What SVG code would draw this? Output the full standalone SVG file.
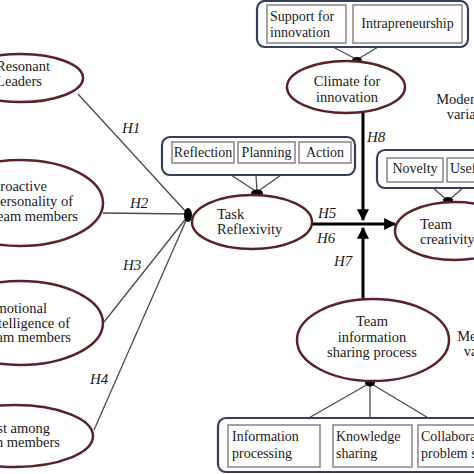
<svg xmlns="http://www.w3.org/2000/svg" width="474" height="474" viewBox="0 0 474 474">
<style>
.ell{fill:#fff;stroke:#5a2127;stroke-width:2.5}
.outer{fill:#fff;stroke:#34405a;stroke-width:2.2}
.inner{fill:#fff;stroke:#8c8c8c;stroke-width:1.6}
.t{font-family:"Liberation Serif","Times New Roman",serif;font-size:14.5px;fill:#1a1a1a}
.b{font-family:"Liberation Serif","Times New Roman",serif;font-size:14px;fill:#1a1a1a}
.h{font-family:"Liberation Serif","Times New Roman",serif;font-size:15px;font-style:italic;fill:#1a1a1a}
.thin{stroke:#4a4a4a;stroke-width:1.3;fill:none}
.thick{stroke:#000;stroke-width:3;fill:none}
.dot{fill:#000}
</style>
<defs>
<marker id="arr" viewBox="0 0 10 10" refX="9" refY="5" markerWidth="4" markerHeight="4" orient="auto" markerUnits="strokeWidth">
<path d="M0,0 L10,5 L0,10 z" fill="#000"/>
</marker>
</defs>
<rect width="474" height="474" fill="#fff"/>

<g id="connectors">
<line class="thin" x1="78" y1="94" x2="188" y2="214"/>
<line class="thin" x1="103" y1="213" x2="188" y2="214"/>
<line class="thin" x1="104" y1="322" x2="188" y2="216"/>
<line class="thin" x1="94" y1="430" x2="188" y2="216"/>
<line class="thin" x1="231" y1="175" x2="257" y2="192"/>
<line class="thin" x1="256" y1="175" x2="257" y2="192"/>
<line class="thin" x1="281" y1="175" x2="257" y2="192"/>
<line class="thin" x1="333" y1="47" x2="356" y2="59"/>
<line class="thin" x1="378" y1="47" x2="358" y2="59"/>
<line class="thin" x1="433" y1="188" x2="447" y2="200"/>
<line class="thin" x1="463" y1="188" x2="449" y2="200"/>
<line class="thin" x1="370" y1="383" x2="307" y2="419"/>
<line class="thin" x1="370" y1="383" x2="370" y2="419"/>
<line class="thin" x1="370" y1="383" x2="430" y2="419"/>
<line class="thick" x1="363" y1="112" x2="363" y2="220" marker-end="url(#arr)"/>
<line class="thick" x1="363" y1="299" x2="363" y2="228" marker-end="url(#arr)"/>
<line class="thick" x1="312" y1="224" x2="395" y2="224" marker-end="url(#arr)"/>
<ellipse class="dot" cx="188" cy="215" rx="4" ry="7"/>
<ellipse class="dot" cx="257" cy="193" rx="6" ry="3.5"/>
<ellipse class="dot" cx="357" cy="60" rx="5" ry="3"/>
<ellipse class="dot" cx="448" cy="200" rx="5" ry="3"/>
<ellipse class="dot" cx="370" cy="383" rx="5" ry="3.5"/>
<text class="h" x="122" y="133">H1</text>
<text class="h" x="130" y="208">H2</text>
<text class="h" x="123" y="270">H3</text>
<text class="h" x="90" y="384">H4</text>
<text class="h" x="318" y="218">H5</text>
<text class="h" x="317" y="243">H6</text>
<text class="h" x="334" y="266">H7</text>
<text class="h" x="367" y="142">H8</text>
</g>

<g id="resonant">
<ellipse class="ell" cx="21" cy="78" rx="62" ry="24"/>
<text class="t" x="50" y="71" text-anchor="end">Resonant</text>
<text class="t" x="42" y="86" text-anchor="end">Leaders</text>
</g>

<g id="proactive">
<ellipse class="ell" cx="20" cy="203" rx="83" ry="43"/>
<text class="t" x="47" y="191" text-anchor="end">Proactive</text>
<text class="t" x="73" y="206" text-anchor="end">personality of</text>
<text class="t" x="78" y="221" text-anchor="end">team members</text>
</g>

<g id="emotional">
<ellipse class="ell" cx="20" cy="323" rx="83" ry="42"/>
<text class="t" x="47" y="313" text-anchor="end">Emotional</text>
<text class="t" x="70" y="328" text-anchor="end">intelligence of</text>
<text class="t" x="71" y="342" text-anchor="end">team members</text>
</g>

<g id="trust">
<ellipse class="ell" cx="15" cy="436" rx="78" ry="31"/>
<text class="t" x="50" y="433" text-anchor="end">Trust among</text>
<text class="t" x="60" y="447" text-anchor="end">team members</text>
</g>

<g id="task-reflexivity">
<ellipse class="ell" cx="252" cy="222" rx="60" ry="27"/>
<text class="t" x="217" y="219">Task</text>
<text class="t" x="217" y="234">Reflexivity</text>
</g>

<g id="reflexivity-dims">
<rect class="outer" x="162" y="137" width="193" height="38" rx="8"/>
<rect class="inner" x="172" y="142" width="62" height="21"/>
<rect class="inner" x="238" y="142" width="57" height="21"/>
<rect class="inner" x="299" y="142" width="52" height="21"/>
<text class="b" x="203" y="157" text-anchor="middle">Reflection</text>
<text class="b" x="266.5" y="157" text-anchor="middle">Planning</text>
<text class="b" x="325" y="157" text-anchor="middle">Action</text>
</g>

<g id="climate-dims">
<rect class="outer" x="257" y="1" width="211" height="46" rx="8"/>
<rect class="inner" x="267" y="5" width="79" height="38"/>
<rect class="inner" x="353" y="5" width="109" height="38"/>
<text class="b" x="270" y="21">Support for</text>
<text class="b" x="270" y="37">innovation</text>
<text class="b" x="407.5" y="28" text-anchor="middle">Intrapreneurship</text>
</g>

<g id="climate">
<ellipse class="ell" cx="346" cy="87" rx="59" ry="26"/>
<text class="t" x="347" y="86" text-anchor="middle">Climate for</text>
<text class="t" x="347" y="102" text-anchor="middle">innovation</text>
</g>

<g id="moderating-label">
<text class="t" x="470" y="104" text-anchor="middle">Moderating</text>
<text class="t" x="470" y="119" text-anchor="middle">variable</text>
</g>

<g id="creativity-dims">
<rect class="outer" x="377" y="150" width="130" height="38" rx="8"/>
<rect class="inner" x="387" y="158" width="56" height="24"/>
<rect class="inner" x="447" y="158" width="70" height="24"/>
<text class="b" x="415" y="173" text-anchor="middle">Novelty</text>
<text class="b" x="450" y="173">Usefulness</text>
</g>

<g id="team-creativity">
<ellipse class="ell" cx="455" cy="231" rx="60" ry="29"/>
<text class="t" x="420" y="229">Team</text>
<text class="t" x="420" y="244">creativity</text>
</g>

<g id="team-info">
<ellipse class="ell" cx="373" cy="340" rx="76" ry="41"/>
<text class="t" x="372" y="326" text-anchor="middle">Team</text>
<text class="t" x="372" y="342" text-anchor="middle">information</text>
<text class="t" x="372" y="357" text-anchor="middle">sharing process</text>
</g>

<g id="mediating-label">
<text class="t" x="487" y="341" text-anchor="middle">Mediating</text>
<text class="t" x="487" y="356" text-anchor="middle">variable</text>
</g>

<g id="info-dims">
<rect class="outer" x="218" y="418" width="300" height="54" rx="8"/>
<rect class="inner" x="228" y="425" width="92" height="42"/>
<rect class="inner" x="333" y="425" width="79" height="42"/>
<rect class="inner" x="418" y="425" width="100" height="42"/>
<text class="b" x="232" y="441">Information</text>
<text class="b" x="232" y="458">processing</text>
<text class="b" x="336" y="441">Knowledge</text>
<text class="b" x="336" y="458">sharing</text>
<text class="b" x="421" y="441">Collaborative</text>
<text class="b" x="421" y="458">problem solving</text>
</g>
</svg>
